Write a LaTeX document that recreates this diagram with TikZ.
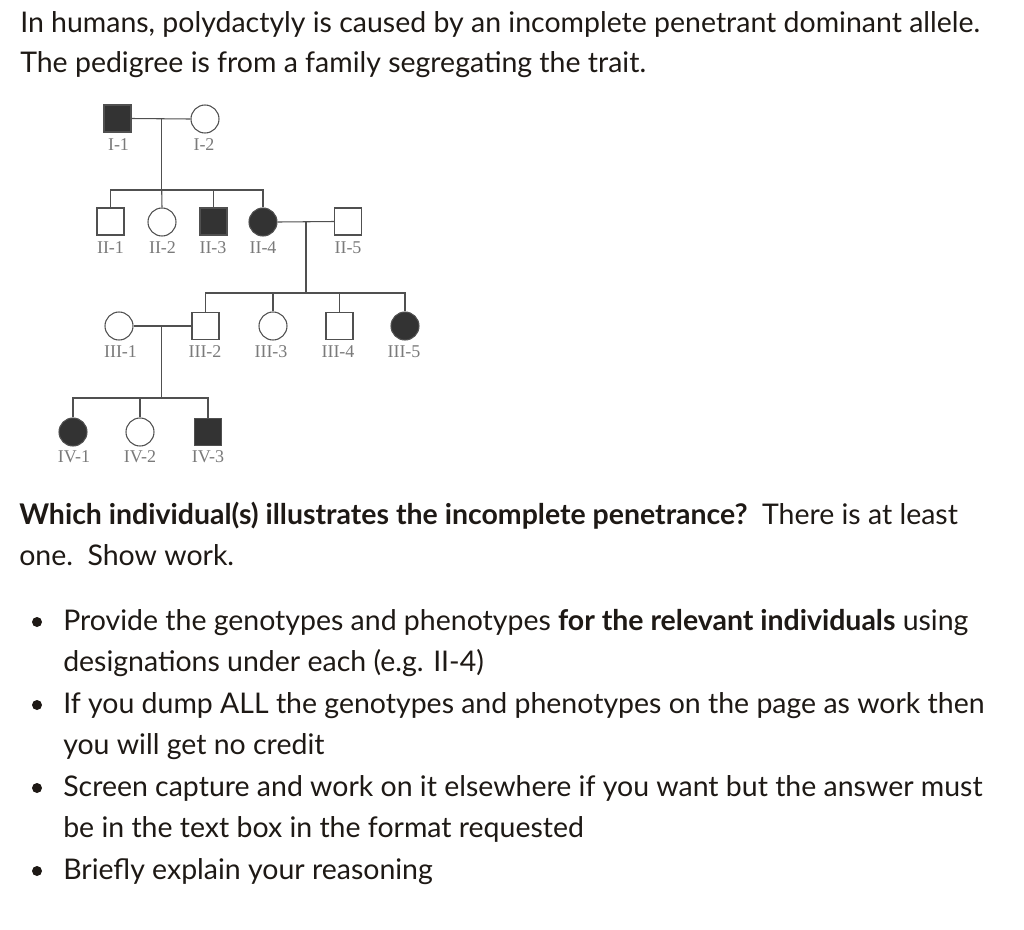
\documentclass[tikz,border=0pt]{standalone}
\usepackage{fontspec}
\setmainfont{Lato}
\newfontfamily\pedfont{Liberation Serif}
\definecolor{ink}{HTML}{1E1915}
\definecolor{pline}{HTML}{505050}
\definecolor{pfill}{HTML}{333333}
\definecolor{plab}{HTML}{7A7A7A}
\begin{document}
\begin{tikzpicture}[x=0.75pt,y=-0.75pt,
  txt/.style={anchor=base west,inner sep=0pt,text=ink,font=\fontsize{21.35pt}{26pt}\selectfont},
  male/.style={draw=pline,line width=0.8pt,rectangle,minimum size=20.25pt,inner sep=0pt},
  female/.style={draw=pline,line width=0.8pt,circle,minimum size=21pt,inner sep=0pt},
  aff/.style={fill=pfill},
  lab/.style={text=plab,inner sep=0pt,font=\pedfont\fontsize{13.5pt}{15pt}\selectfont},
  pl/.style={draw=pline,line width=0.8pt},
  dot/.style={circle,fill=ink,minimum size=7.5pt,inner sep=0pt}]
\useasboundingbox (0,0) rectangle (1024,929);
\fill[white] (0,0) rectangle (1024,929);

% Text
\node[txt] (t1) at (20,32) {In humans, polydactyly is caused by an incomplete penetrant dominant allele.};
\node[txt] (t2) at (20,72.5) {The pedigree is from a family segregating the trait.};
\node[txt] (q1) at (19,524) {\textbf{Which individual(s) illustrates the incomplete penetrance?}\ \ There is at least};
\node[txt] (q2) at (19,565) {one.\ \ Show work.};

\node[dot] (b1) at (37,622) {};
\node[dot] (b2) at (37,705) {};
\node[dot] (b3) at (37,788) {};
\node[dot] (b4) at (37,871) {};
\node[txt] (l1) at (63,630) {Provide the genotypes and phenotypes \textbf{for the relevant individuals} using};
\node[txt] (l2) at (63,671.5) {designations under each (e.g. II-4)};
\node[txt] (l3) at (63,713) {If you dump ALL the genotypes and phenotypes on the page as work then};
\node[txt] (l4) at (63,754.5) {you will get no credit};
\node[txt] (l5) at (63,796) {Screen capture and work on it elsewhere if you want but the answer must};
\node[txt] (l6) at (63,837.5) {be in the text box in the format requested};
\node[txt] (l7) at (63,879) {Briefly explain your reasoning};

% Pedigree: generation I
\node[male,aff] (I1) at (117.5,118.5) {};
\node[female] (I2) at (205,119) {};
% generation II
\node[male] (II1) at (110.5,221.5) {};
\node[female] (II2) at (162,222) {};
\node[male,aff] (II3) at (213.5,221.5) {};
\node[female,aff] (II4) at (263,222) {};
\node[male] (II5) at (348,221.5) {};
% generation III
\node[female] (III1) at (119,326) {};
\node[male] (III2) at (205.5,326) {};
\node[female] (III3) at (273,326) {};
\node[male] (III4) at (339.5,326) {};
\node[female,aff] (III5) at (405,326) {};
% generation IV
\node[female,aff] (IV1) at (73,432) {};
\node[female] (IV2) at (140,432) {};
\node[male,aff] (IV3) at (208,432) {};

% labels
\node[lab] at (118.5,145) {I-1};
\node[lab] at (204,145) {I-2};
\node[lab] at (110.5,248) {II-1};
\node[lab] at (162.5,248) {II-2};
\node[lab] at (213,248) {II-3};
\node[lab] at (263,248) {II-4};
\node[lab] at (348,248) {II-5};
\node[lab] at (120.5,352) {III-1};
\node[lab] at (205,352) {III-2};
\node[lab] at (271,352) {III-3};
\node[lab] at (338,352) {III-4};
\node[lab] at (404,352) {III-5};
\node[lab] at (74,457) {IV-1};
\node[lab] at (140,457) {IV-2};
\node[lab] at (208,457) {IV-3};

% junction coordinates
\coordinate (m1) at (161.7,118.5);
\coordinate (s1) at (161.7,190);
\coordinate (m2) at (306,222);
\coordinate (s2) at (306,293);
\coordinate (m3) at (161.7,326);
\coordinate (s3) at (161.7,398);

% connectors
\draw[pl] (I1.east) -- (I2.west);
\draw[pl] (m1) -- (s1);
\draw[pl] (II1.north) |- (s1) -| (II4.north);
\draw[pl] (s1) -- (II2.north);
\draw[pl] (II3.north) |- (s1);

\draw[pl] (II4.east) -- (II5.west);
\draw[pl] (m2) -- (s2);
\draw[pl] (III2.north) |- (s2) -| (III5.north);
\draw[pl] (III3.north) |- (s2);
\draw[pl] (III4.north) |- (s2);

\draw[pl] (III1.east) -- (III2.west);
\draw[pl] (m3) -- (s3);
\draw[pl] (IV1.north) |- (s3) -| (IV3.north);
\draw[pl] (IV2.north) |- (s3);
\end{tikzpicture}
\end{document}
